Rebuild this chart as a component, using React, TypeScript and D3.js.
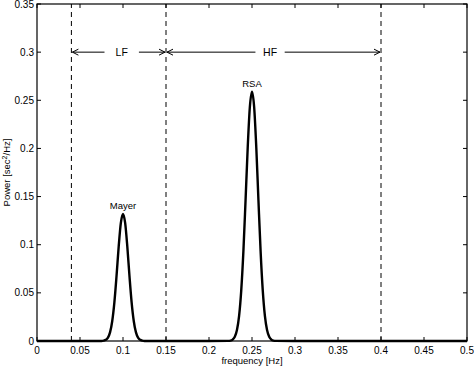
import React from "react";
import * as d3 from "d3";

// Spectrum (frequency in Hz, power in sec^2/Hz)
const freq: number[] = [
  0, 0.05, 0.075, 0.0775, 0.08, 0.0825, 0.085, 0.0875, 0.09, 0.0925, 0.095, 0.0975,
  0.1, 0.1025, 0.105, 0.1075, 0.11, 0.1125, 0.115, 0.1175, 0.12, 0.1225, 0.125,
  0.15, 0.2, 0.2225, 0.225, 0.2275, 0.23, 0.2325, 0.235, 0.2375, 0.24, 0.2425, 0.245, 0.2475,
  0.25, 0.2525, 0.255, 0.2575, 0.26, 0.2625, 0.265, 0.2675, 0.27, 0.2725, 0.275, 0.2775,
  0.3, 0.4, 0.5,
];
const power: number[] = [
  0, 0, 0, 0.0003, 0.0012, 0.0035, 0.0092, 0.0208, 0.0404, 0.0678, 0.0982, 0.1226,
  0.132, 0.1226, 0.0982, 0.0678, 0.0404, 0.0208, 0.0092, 0.0035, 0.0012, 0.0003, 0,
  0, 0, 0.0001, 0.0004, 0.0015, 0.0044, 0.0114, 0.0261, 0.0526, 0.0933, 0.1459, 0.2007, 0.243,
  0.259, 0.243, 0.2007, 0.1459, 0.0933, 0.0526, 0.0261, 0.0114, 0.0044, 0.0015, 0.0004, 0.0001,
  0, 0, 0,
];

const xTicks: number[] = [0, 0.05, 0.1, 0.15, 0.2, 0.25, 0.3, 0.35, 0.4, 0.45, 0.5];
const yTicks: number[] = [0, 0.05, 0.1, 0.15, 0.2, 0.25, 0.3, 0.35];
const bandEdges: number[] = [0.04, 0.15, 0.4];
const bandNames: string[] = ["LF", "HF"];
const bandLabelX: number[] = [0.0985, 0.271];
const bandGap: number[] = [0.02, 0.017];
const bandLevel = 0.3;
const peakNames: string[] = ["Mayer", "RSA"];
const peakFreq: number[] = [0.1, 0.25];
const peakPower: number[] = [0.132, 0.259];

const W = 474;
const H = 367;
const M = { left: 37, right: 7, top: 4, bottom: 26 };
const FONT = "Liberation Sans, Arial, Helvetica, sans-serif";

export default function App() {
  const x = d3.scaleLinear().domain([0, 0.5]).range([M.left, W - M.right]);
  const y = d3.scaleLinear().domain([0, 0.35]).range([H - M.bottom, M.top]);
  const line = d3
    .line<number>()
    .x((_, i) => x(freq[i]))
    .y((d) => y(d))
    .curve(d3.curveMonotoneX);
  const x0 = x.range()[0], x1 = x.range()[1];
  const y0 = y.range()[0], y1 = y.range()[1];
  const tl = 4;
  const ya = y(bandLevel);

  const arrowHead = (px: number, dir: number, key: string) => (
    <path
      key={key}
      d={`M${px + dir * 0},${ya} l${-dir * 6},-3 M${px},${ya} l${-dir * 6},3`}
      stroke="#000"
      strokeWidth={1}
      fill="none"
    />
  );

  return (
    <svg width={W} height={H} style={{ position: "absolute", left: 0, top: 0, background: "#fff" }}>
      <rect x={0} y={0} width={W} height={H} fill="#fff" />
      {/* dashed band edges */}
      {bandEdges.map((f, i) => (
        <line key={"b" + i} x1={x(f)} x2={x(f)} y1={y0} y2={y1} stroke="#000" strokeWidth={1} strokeDasharray="5,4" />
      ))}
      {/* band arrows */}
      {bandNames.map((n, i) => {
        const a = x(bandEdges[i]);
        const b = x(bandEdges[i + 1]);
        const lx = x(bandLabelX[i]);
        const g = x(bandGap[i]) - x(0);
        return (
          <g key={"a" + i}>
            <line x1={a + 1} x2={lx - g} y1={ya} y2={ya} stroke="#000" strokeWidth={1} />
            <line x1={lx + g} x2={b - 1} y1={ya} y2={ya} stroke="#000" strokeWidth={1} />
            {arrowHead(a + 1, -1, "l")}
            {arrowHead(b - 1, 1, "r")}
            <text x={lx} y={ya + 4} textAnchor="middle" fontFamily={FONT} fontSize={10.5} fill="#000">
              {n}
            </text>
          </g>
        );
      })}
      {/* curve */}
      <path d={line(power) || ""} fill="none" stroke="#000" strokeWidth={2.4} strokeLinejoin="round" />
      {/* peak labels */}
      {peakNames.map((n, i) => (
        <text key={"p" + i} x={x(peakFreq[i])} y={y(peakPower[i]) - 5} textAnchor="middle" fontFamily={FONT} fontSize={9.5} fill="#000">
          {n}
        </text>
      ))}
      {/* frame */}
      <rect x={x0} y={y1} width={x1 - x0} height={y0 - y1} fill="none" stroke="#000" strokeWidth={1.2} />
      {/* ticks */}
      {xTicks.map((t, i) => (
        <g key={"xt" + i}>
          <line x1={x(t)} x2={x(t)} y1={y0} y2={y0 - tl} stroke="#000" />
          <line x1={x(t)} x2={x(t)} y1={y1} y2={y1 + tl} stroke="#000" />
          <text x={x(t)} y={y0 + 13} textAnchor="middle" fontFamily={FONT} fontSize={10} fill="#000">
            {String(t)}
          </text>
        </g>
      ))}
      {yTicks.map((t, i) => (
        <g key={"yt" + i}>
          <line x1={x0} x2={x0 + tl} y1={y(t)} y2={y(t)} stroke="#000" />
          <line x1={x1} x2={x1 - tl} y1={y(t)} y2={y(t)} stroke="#000" />
          <text x={x0 - 3} y={y(t) + 3.5} textAnchor="end" fontFamily={FONT} fontSize={10} fill="#000">
            {String(t)}
          </text>
        </g>
      ))}
      {/* axis labels */}
      <text x={(x0 + x1) / 2} y={H - 3} textAnchor="middle" fontFamily={FONT} fontSize={9.5} fill="#000">
        frequency [Hz]
      </text>
      <text
        transform={`translate(10,${(y0 + y1) / 2}) rotate(-90)`}
        textAnchor="middle"
        fontFamily={FONT}
        fontSize={9.5}
        fill="#000"
      >
        Power [sec
        <tspan dy={-3} fontSize={7}>2</tspan>
        <tspan dy={3}>/Hz]</tspan>
      </text>
    </svg>
  );
}
